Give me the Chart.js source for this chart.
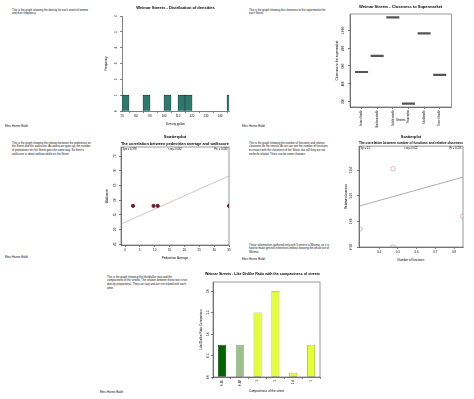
<!DOCTYPE html>
<html>
<head>
<meta charset="utf-8">
<script src="https://cdn.jsdelivr.net/npm/chart.js@4/dist/chart.umd.min.js"></script>
<style>
  html, body { margin: 0; padding: 0; background: #fff; }
  body { position: relative; width: 474px; height: 399px; overflow: hidden; font-family: "Liberation Sans", Arial, sans-serif; }
  canvas { position: absolute; }
  .note { position: absolute; transform: scale(0.5); transform-origin: 0 0; font-size: 5.5px; line-height: 7.2px; color: #111; white-space: nowrap; }
  .author { position: absolute; transform: scale(0.5); transform-origin: 0 0; font-size: 5.8px; color: #111; white-space: nowrap; }
</style>
</head>
<body>
<div class="note" style="left:12px;top:8px">This is the graph showing the density for each street of weimar<br>and their frequency.</div>
<div class="author" style="left:5px;top:124px">Ebru Hanne Baldt</div>

<div class="note" style="left:249px;top:8px">This is the graph showing the closeness to the supermarket for<br>each Street.</div>
<div class="author" style="left:242px;top:124px">Ebru Hanne Baldt</div>

<div class="note" style="left:12px;top:140.5px">This is the graph showing the relation between the pedestrian on<br>the Street and the walkscore. As walkscore goes up, the number<br>of pedestrians on the Street goes the same way. So there's<br>walkscore is about walking ability on the Street.</div>
<div class="author" style="left:5px;top:255px">Ebru Hanne Baldt</div>

<div class="note" style="left:249px;top:140.5px">This is the graph showing the number of functions and relative<br>closeness for the streets. As we can see the number of functions<br>increases with the closeness of the Street, but still they are not<br>perfectly related. There can be some changes.</div>
<div class="note" style="left:249px;top:242.5px">These informations gathered only with 3 streets in Weimar, so it is<br>hard to make general inferences without knowing the whole are of<br>Weimar.</div>
<div class="author" style="left:242px;top:257px">Ebru Hanne Baldt</div>

<div class="note" style="left:107px;top:274.5px">This is the graph showing the like/dislike ratio and the<br>compactness of the streets. The relation between these two is not<br>directly proportional. They can vary and are not related with each<br>other.</div>
<div class="author" style="left:100px;top:390px">Ebru Hanne Baldt</div>

<script>
// histogram: density of streets
const densityBins = [72.5, 77.5, 82.5, 87.5, 92.5, 97.5, 102.5, 107.5, 112.5, 117.5, 122.5, 127.5, 132.5, 137.5, 142.5, 147.5];
const densityCounts = [1, 0, 0, 1, 0, 0, 1, 0, 1, 1, 0, 0, 0, 0, 0, 1];
const densityTicks = [70, 80, 90, 100, 110, 120, 130, 140];
const frequencyTicks = [0, 1, 2, 3, 4, 5, 6];

// closeness to supermarket
const streetNames = ['Jenaer Straße', 'Bauhausstraße', 'Schillerstraße', 'Frauenplan', 'Marktstraße', 'Trierer Straße'];
const supermarketCloseness = [532, 713, 1146, 177, 966, 499];
const closenessTicks = [200, 400, 600, 800, 1000];

// pedestrians vs walkscore
const pedestrianAverage = [2.7, 9.6, 11, 35];
const walkscore = [58, 58, 58, 58];
const walkTrend = [{ x: -1.35, y: 51.8 }, { x: 35, y: 68.2 }];
const pedestrianTicks = [0, 5, 10, 15, 20, 25, 30, 35];
const walkscoreTicks = [45, 50, 55, 60, 65, 70, 75];
const walkStats = ['Spe = 0.378', 'r.sq = 0.062', 'Prc = 0.038'];

// functions vs relative closeness
const functionCount = [0.475, 0.30, 0.475, 0.845];
const relativeCloseness = [1.041, 0.994, 0.98, 1.004];
const functionTrend = [{ x: 0.2933, y: 1.0119 }, { x: 0.848, y: 1.0345 }];
const functionTicks = [0.4, 0.5, 0.6, 0.7, 0.8];
const relClosenessTicks = [0.98, 1.00, 1.02, 1.04];
const functionStats = ['Sp = 0.5', 'r.sq = 0.022', 'Pr = 0.226'];

// like / dislike vs compactness
const compactnessLabels = ['0.86', '0.88', '1', '1', '1.4', '1'];
const likeDislikeRatio = [0.75, 0.75, 1.5, 2.0, 0.1, 0.75];
const ratioTicks = [0, 0.5, 1.0, 1.5, 2.0];
const barColors = ['#006400', '#9cc08c', '#e2ff33', '#e2ff33', '#e2ff33', '#e2ff33'];
const barBorders = ['#002a00', '#6f8f62', '#9aab2e', '#9aab2e', '#9aab2e', '#9aab2e'];

Chart.defaults.font.family = '"Liberation Sans", Arial, sans-serif';
Chart.defaults.font.size = 3;
Chart.defaults.color = '#000';

const plotFrame = {
  id: 'plotFrame',
  afterDatasetsDraw(chart) {
    const { ctx, chartArea: a } = chart;
    ctx.save();
    ctx.strokeStyle = '#555';
    ctx.lineWidth = 0.6;
    ctx.strokeRect(a.left, a.top, a.right - a.left, a.bottom - a.top);
    ctx.restore();
  }
};

const statsLine = {
  id: 'statsLine',
  afterDraw(chart, args, opts) {
    const { ctx, chartArea: a } = chart;
    ctx.save();
    ctx.font = '2.6px "Liberation Sans"';
    ctx.fillStyle = '#000';
    ctx.textBaseline = 'middle';
    const y = a.top + 2.2;
    ctx.textAlign = 'left';
    ctx.fillText(opts.text[0], a.left + 1.5, y);
    ctx.textAlign = 'center';
    ctx.fillText(opts.text[1], (a.left + a.right) / 2, y);
    ctx.textAlign = 'right';
    ctx.fillText(opts.text[2], a.right - 1.5, y);
    ctx.restore();
  }
};

function makeCanvas(left, top, width, height) {
  const c = document.createElement('canvas');
  c.width = width;
  c.height = height;
  c.style.left = left + 'px';
  c.style.top = top + 'px';
  document.body.appendChild(c);
  return c;
}

const tickGrid = { drawOnChartArea: false, drawTicks: true, tickLength: 2, color: '#000', lineWidth: 0.5 };
const axisBorder = { display: true, color: '#000', width: 0.5 };
const fixedTicks = values => scale => { scale.ticks = values.map(v => ({ value: v })); };

function baseOptions(extra) {
  return Object.assign({
    responsive: false,
    animation: false,
    devicePixelRatio: 1,
  }, extra);
}

// 1. histogram
new Chart(makeCanvas(100, 0, 137, 130), {
  type: 'bar',
  data: {
    datasets: [{
      data: densityBins.map((b, i) => ({ x: b, y: densityCounts[i] })),
      backgroundColor: '#2e786e',
      borderColor: '#000',
      borderWidth: 0.5,
      categoryPercentage: 1,
      barPercentage: 1,
      clip: 0
    }]
  },
  options: baseOptions({
    layout: { padding: { left: 3, right: 8, top: 0, bottom: 1 } },
    plugins: {
      legend: { display: false },
      tooltip: { enabled: false },
      title: {
        display: true, fullSize: false,
        text: 'Weimar Streets - Distribution of densities',
        font: { size: 4, weight: 'bold', lineHeight: 1.2 },
        padding: { top: 5, bottom: 6.2 }
      }
    },
    scales: {
      x: {
        type: 'linear', min: 70, max: 146.4, offset: false,
        afterBuildTicks: fixedTicks(densityTicks),
        afterFit: s => { s.height = 18; },
        grid: tickGrid, border: axisBorder,
        ticks: { padding: 1, maxRotation: 0 },
        title: { display: true, text: 'Density pp/km', font: { size: 3 }, padding: { top: 0, bottom: 3.5 } }
      },
      y: {
        min: 0, max: 6,
        afterBuildTicks: fixedTicks(frequencyTicks),
        afterFit: s => { s.width = 19; },
        grid: tickGrid, border: axisBorder,
        ticks: { minRotation: 90, maxRotation: 90, crossAlign: 'center', padding: 3 },
        title: { display: true, text: 'Frequency', font: { size: 3 }, padding: { top: 1, bottom: 0 } }
      }
    }
  })
});

// 2. closeness to supermarket
new Chart(makeCanvas(330, 0, 130, 130), {
  type: 'line',
  data: {
    datasets: [{
      data: supermarketCloseness.map((v, i) => ({ x: i + 1, y: v })),
      showLine: false,
      pointStyle: 'line',
      pointRadius: 6.5,
      borderColor: '#555',
      pointBorderWidth: 2.2
    }]
  },
  plugins: [plotFrame],
  options: baseOptions({
    layout: { padding: { left: 4, right: 5, top: 0, bottom: 0 } },
    plugins: {
      legend: { display: false },
      tooltip: { enabled: false },
      title: {
        display: true, fullSize: false,
        text: 'Weimar Streets - Closeness to Supermarket',
        font: { size: 4, weight: 'bold', lineHeight: 1.2 },
        padding: { top: 4.6, bottom: 4.6 }
      }
    },
    scales: {
      x: {
        type: 'linear', min: 0.26, max: 6.74,
        afterBuildTicks: fixedTicks([1, 2, 3, 4, 5, 6]),
        afterFit: s => { s.height = 23; },
        grid: tickGrid, border: axisBorder,
        ticks: { minRotation: 90, maxRotation: 90, padding: 1, font: { size: 2.6 }, callback: v => streetNames[v - 1] },
        title: { display: true, text: 'Streets', font: { size: 3 }, padding: { top: 0, bottom: 8.2 } }
      },
      y: {
        min: 138, max: 1185,
        afterBuildTicks: fixedTicks(closenessTicks),
        afterFit: s => { s.width = 16; },
        grid: tickGrid, border: axisBorder,
        ticks: { minRotation: 90, maxRotation: 90, crossAlign: 'center', padding: 1.5 },
        title: { display: true, text: 'Closeness to the supermarket', font: { size: 3 }, padding: { top: 1.2, bottom: 0 } }
      }
    }
  })
});

// 3. pedestrians vs walkscore
new Chart(makeCanvas(100, 130, 137, 135), {
  type: 'scatter',
  data: {
    datasets: [{
      data: pedestrianAverage.map((v, i) => ({ x: v, y: walkscore[i] })),
      backgroundColor: '#6e1b28',
      borderColor: '#6e1b28',
      pointRadius: 1.6,
      clip: 0
    }, {
      type: 'line',
      data: walkTrend,
      borderColor: '#b89a9a',
      borderWidth: 0.6,
      pointRadius: 0
    }]
  },
  plugins: [plotFrame, statsLine],
  options: baseOptions({
    layout: { padding: { left: 3, right: 8, top: 0, bottom: 0 } },
    plugins: {
      legend: { display: false },
      tooltip: { enabled: false },
      statsLine: { text: walkStats },
      title: {
        display: true, fullSize: false,
        text: ['Scatterplot', 'The correlation between pedestrian average and walkscore'],
        font: { size: 4.3, weight: 'bold', lineHeight: 1.5 },
        padding: { top: 3.8, bottom: 0.3 }
      }
    },
    scales: {
      x: {
        type: 'linear', min: -1.35, max: 35,
        afterBuildTicks: fixedTicks(pedestrianTicks),
        afterFit: s => { s.height = 20; },
        grid: tickGrid, border: axisBorder,
        ticks: { padding: 1, maxRotation: 0 },
        title: { display: true, text: 'Pedestrian Average', font: { size: 3 }, padding: { top: 0, bottom: 5.2 } }
      },
      y: {
        min: 44.66, max: 78.07,
        afterBuildTicks: fixedTicks(walkscoreTicks),
        afterFit: s => { s.width = 18; },
        grid: tickGrid, border: axisBorder,
        ticks: { minRotation: 90, maxRotation: 90, crossAlign: 'center', padding: 2.3 },
        title: { display: true, text: 'Walkscore', font: { size: 3 }, padding: { top: 2.2, bottom: 0 } }
      }
    }
  })
});

// 4. functions vs relative closeness
new Chart(makeCanvas(340, 130, 134, 135), {
  type: 'scatter',
  data: {
    datasets: [{
      data: functionCount.map((v, i) => ({ x: v, y: relativeCloseness[i] })),
      backgroundColor: 'rgba(0,0,0,0)',
      borderColor: '#d9879a',
      borderWidth: 0.6,
      pointRadius: 2.2,
      clip: 0
    }, {
      type: 'line',
      data: functionTrend,
      borderColor: '#777',
      borderWidth: 0.6,
      pointRadius: 0
    }]
  },
  plugins: [plotFrame, statsLine],
  options: baseOptions({
    layout: { padding: { left: 4, right: 11, top: 0, bottom: 0 } },
    plugins: {
      legend: { display: false },
      tooltip: { enabled: false },
      statsLine: { text: functionStats },
      title: {
        display: true, fullSize: false,
        text: ['Scatterplot', 'The correlation between number of functions and relative closeness'],
        font: { size: 3.9, weight: 'bold', lineHeight: 1.55 },
        padding: { top: 4, bottom: 0 }
      }
    },
    scales: {
      x: {
        type: 'linear', min: 0.2933, max: 0.848,
        afterBuildTicks: fixedTicks(functionTicks),
        afterFit: s => { s.height = 18; },
        grid: tickGrid, border: axisBorder,
        ticks: { padding: 1, maxRotation: 0, callback: v => v.toFixed(1) },
        title: { display: true, text: 'Number of functions', font: { size: 3 }, padding: { top: 0, bottom: 3.2 } }
      },
      y: {
        min: 0.98, max: 1.0587,
        afterBuildTicks: fixedTicks(relClosenessTicks),
        afterFit: s => { s.width = 15; },
        grid: tickGrid, border: axisBorder,
        ticks: { minRotation: 90, maxRotation: 90, crossAlign: 'center', padding: 2.6, callback: v => v.toFixed(2) },
        title: { display: true, text: 'Relative closeness', font: { size: 3 }, padding: { top: 0.2, bottom: 0 } }
      }
    }
  })
});

// 5. like / dislike ratio
new Chart(makeCanvas(195, 265, 135, 134), {
  type: 'bar',
  data: {
    labels: compactnessLabels,
    datasets: [{
      data: likeDislikeRatio,
      backgroundColor: barColors,
      borderColor: barBorders,
      borderWidth: 0.8,
      borderSkipped: false,
      categoryPercentage: 1,
      barPercentage: 0.45
    }]
  },
  plugins: [plotFrame],
  options: baseOptions({
    layout: { padding: { left: 10, right: 10, top: 0, bottom: 0 } },
    plugins: {
      legend: { display: false },
      tooltip: { enabled: false },
      title: {
        display: true, align: 'start',
        text: 'Weimar Streets - Like Dislike Ratio with the compactness of streets',
        font: { size: 4, weight: 'bold', lineHeight: 1.2 },
        padding: { top: 6.6, bottom: 5.6 }
      }
    },
    scales: {
      x: {
        afterFit: s => { s.height = 22; },
        grid: tickGrid, border: axisBorder,
        ticks: { minRotation: 90, maxRotation: 90, padding: 1 },
        title: { display: true, text: 'Compactness of the street', font: { size: 3 }, padding: { top: 0, bottom: 6.2 } }
      },
      y: {
        min: 0, max: 2.21,
        afterBuildTicks: fixedTicks(ratioTicks),
        afterFit: s => { s.width = 8; },
        grid: tickGrid, border: axisBorder,
        ticks: { minRotation: 90, maxRotation: 90, crossAlign: 'center', padding: 0.9, callback: v => v.toFixed(1) },
        title: { display: true, text: 'Like/Dislike Ratio Comparison', font: { size: 3 }, padding: { top: -5.8, bottom: 0 } }
      }
    }
  })
});
</script>
</body>
</html>
